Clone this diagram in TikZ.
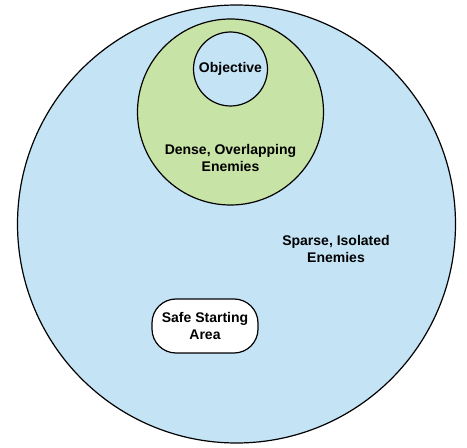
\documentclass[tikz,border=0pt]{standalone}
\usepackage{fontspec}
\setmainfont{Liberation Sans}
\usetikzlibrary{shapes.geometric,positioning}
\definecolor{zoneblue}{RGB}{196,228,246}
\definecolor{zonegreen}{RGB}{200,227,166}
\tikzset{
  zone/.style = {circle, draw=black, line width=1.2pt, inner sep=0pt, anchor=center},
  area/.style = {rectangle, rounded corners=24pt, draw=black, fill=white, line width=1.2pt, minimum width=106pt, minimum height=54pt, align=center, font=\bfseries\fontsize{14}{17}\selectfont},
  label/.style = {align=center, font=\bfseries\fontsize{14}{17}\selectfont}
}

\begin{document}
\begin{tikzpicture}[x=1pt,y=1pt]
\useasboundingbox (0,0) rectangle (467,448);
\node [zone, fill=zoneblue, minimum size=438pt] (world) at (236.5,224) {};
\node [zone, fill=zonegreen, minimum size=186pt] (dense) at (230.5,336) {};
\node [zone, fill=zoneblue, minimum size=74pt, label] (objective) at (230.5,379) {Objective};
\node [label] (densetext) at (230.5,290) {Dense, Overlapping\\Enemies};
\node [label] (sparse) at (336,199) {Sparse, Isolated\\Enemies};
\node [area] (safe) at (205,122) {Safe Starting\\Area};
\end{tikzpicture}
\end{document}
